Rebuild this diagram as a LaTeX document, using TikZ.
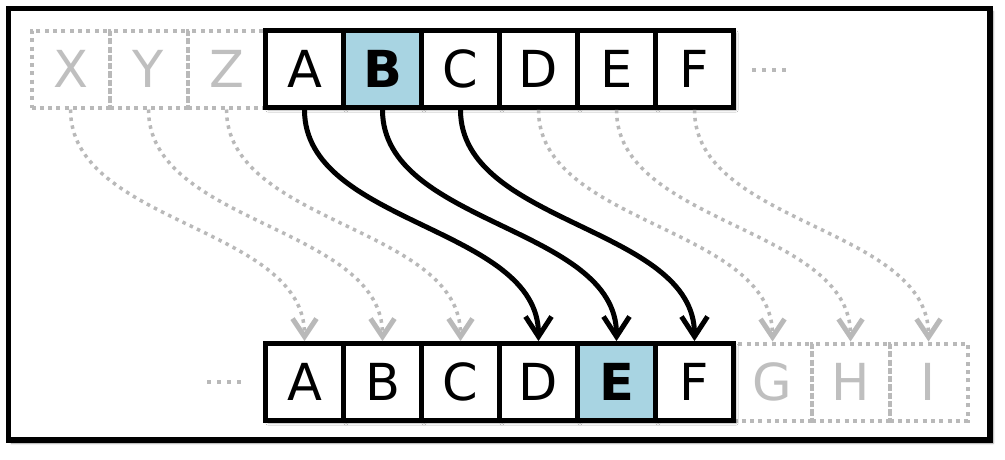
\documentclass[tikz,border=0pt]{standalone}
\usepackage{fontspec}
\setmainfont{DejaVu Sans}
\usetikzlibrary{arrows.meta,shadows.blur}
\definecolor{hl}{RGB}{168,212,226}
\tikzset{
  letterfont/.style={font=\fontsize{51}{60}\selectfont},
  cell/.style={draw=black, line width=4.8pt, fill=white, minimum width=78pt, minimum height=77pt,
    inner sep=0pt, text height=37pt, text depth=0pt, letterfont, text=black,
    blur shadow={shadow xshift=2.5pt, shadow yshift=-2.5pt, shadow blur steps=5, shadow opacity=30}},
  hlcell/.style={cell, fill=hl, font=\fontsize{51}{60}\selectfont\bfseries},
  ghost/.style={draw=gray!55, line width=4pt, dash pattern=on 4pt off 4.3pt, minimum width=78pt,
    minimum height=77pt, inner sep=0pt, text height=37pt, text depth=0pt, letterfont, text=gray!50},
  mainarrow/.style={line width=5pt, -{Straight Barb[length=20pt,width=26pt,line width=5pt]}},
  ghostarrow/.style={draw=gray!55, line width=3.5pt, dash pattern=on 3.5pt off 4.5pt,
    -{Straight Barb[length=18pt,width=24pt,line width=5pt]}},
  dots/.style={draw=gray!55, line width=4pt, dash pattern=on 4pt off 6pt},
  frame/.style={draw=black, line width=5.5pt, fill=white,
    blur shadow={shadow xshift=3pt, shadow yshift=-3pt, shadow blur steps=6, shadow opacity=40}},
}
\begin{document}
\begin{tikzpicture}[x=1pt,y=-1pt]
\useasboundingbox (0,0) rectangle (1005,459);
\path[frame] (8.5,8.5) rectangle (990,440);
% ghost cells
\node[ghost] (tX) at (70.5,69) {X};
\node[ghost] (tY) at (148.5,69) {Y};
\node[ghost] (tZ) at (226.5,69) {Z};
\node[ghost] (bG) at (772.5,382) {G};
\node[ghost] (bH) at (850.5,382) {H};
\node[ghost] (bI) at (928.5,382) {I};
% top row
\node[cell] (tA) at (304.5,69) {A};
\node[hlcell] (tB) at (382.5,69) {B};
\node[cell] (tC) at (460.5,69) {C};
\node[cell] (tD) at (538.5,69) {D};
\node[cell] (tE) at (616.5,69) {E};
\node[cell] (tF) at (694.5,69) {F};
% bottom row
\node[cell] (bA) at (304.5,382) {A};
\node[cell] (bB) at (382.5,382) {B};
\node[cell] (bC) at (460.5,382) {C};
\node[cell] (bD) at (538.5,382) {D};
\node[hlcell] (bE) at (616.5,382) {E};
\node[cell] (bF) at (694.5,382) {F};
% ellipses
\coordinate (d1) at (752,70);
\coordinate (d2) at (790,70);
\coordinate (d3) at (207,382);
\coordinate (d4) at (245,382);
\path[dots] (d1) -- (d2);
\path[dots] (d3) -- (d4);
% ghost arrows
\foreach \s/\t in {tX/bA, tY/bB, tZ/bC, tD/bG, tE/bH, tF/bI}
  \draw[ghostarrow] (\s.south) .. controls +(0,115) and +(0,-115) .. (\t.north);
% main arrows
\foreach \s/\t in {tA/bD, tB/bE, tC/bF}
  \draw[mainarrow] (\s.south) .. controls +(0,115) and +(0,-115) .. (\t.north);
\end{tikzpicture}
\end{document}
